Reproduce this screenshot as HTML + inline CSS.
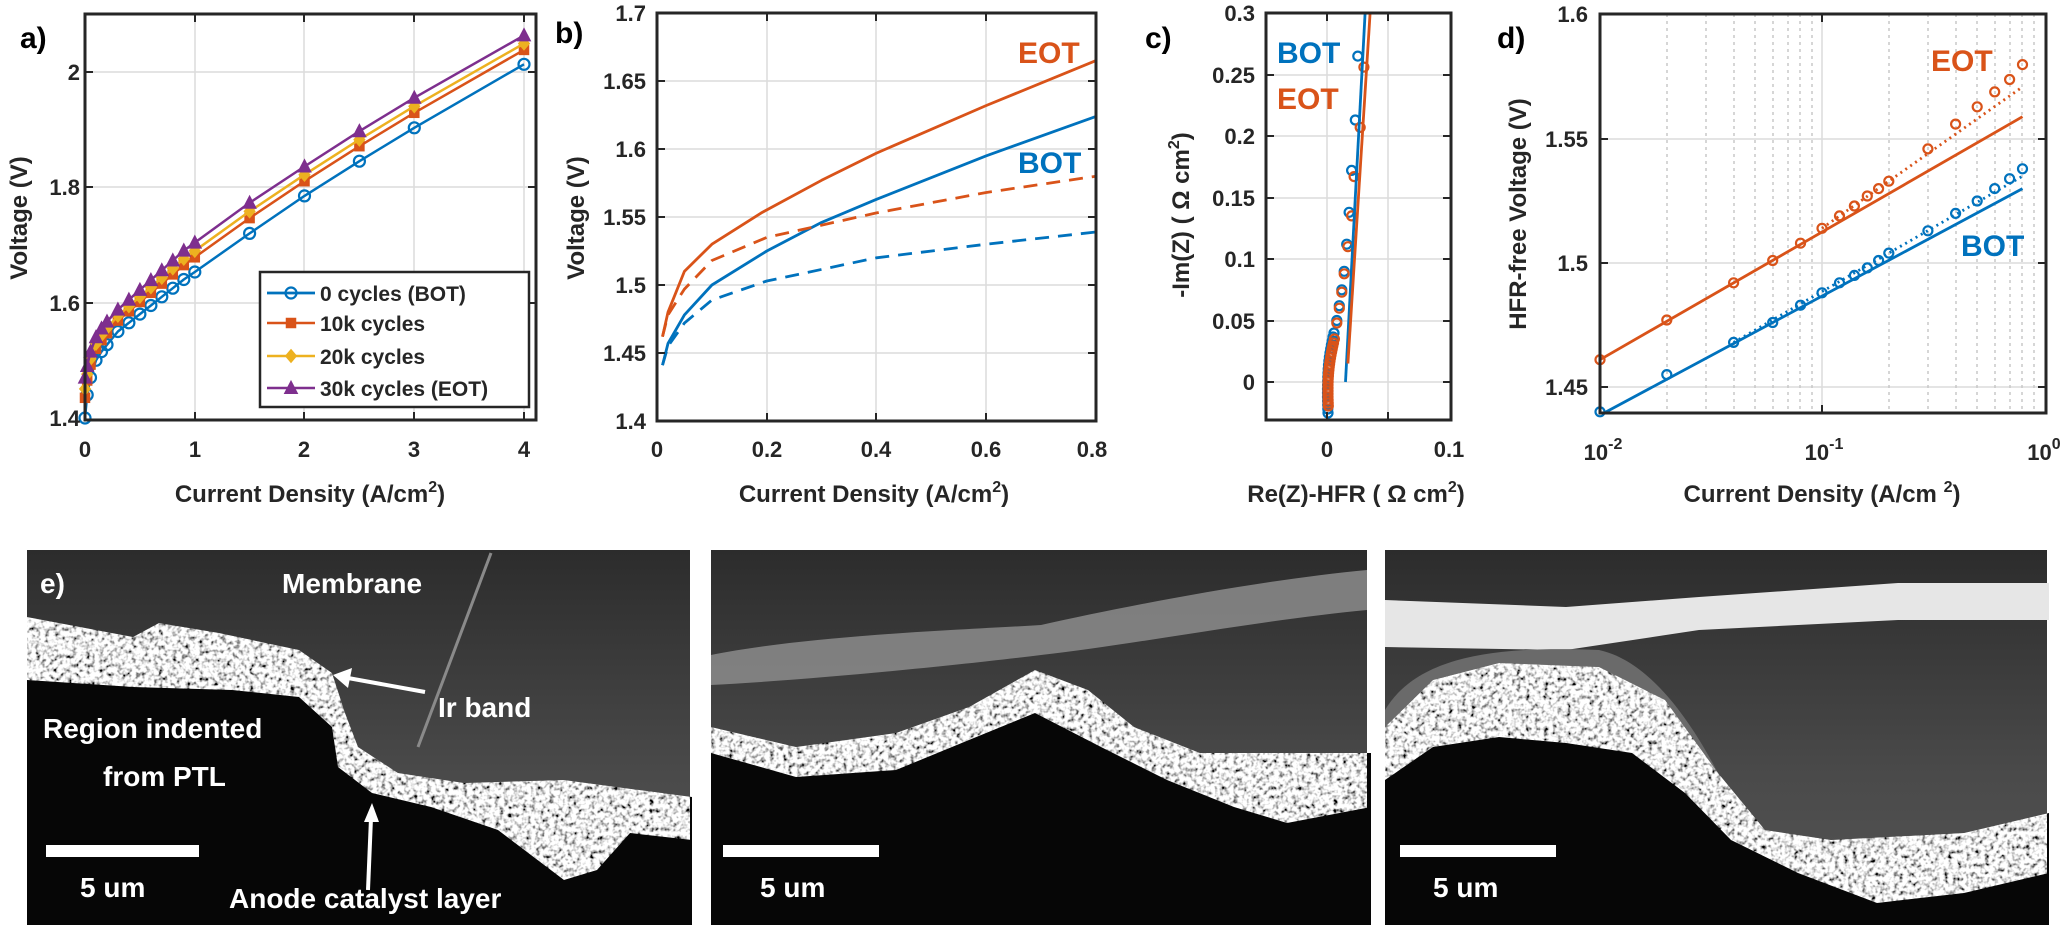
<!DOCTYPE html>
<html><head><meta charset="utf-8"><style>
html,body{margin:0;padding:0;background:#fff;}
svg{display:block;font-family:"Liberation Sans",Arial,sans-serif;}
.t{font-size:22px;font-weight:bold;fill:#262626;}
.l{font-size:24px;font-weight:bold;fill:#262626;}
.p{font-size:30px;font-weight:bold;fill:#000;}
.w{font-weight:bold;fill:#fff;}
</style></head><body>
<svg width="2070" height="929" viewBox="0 0 2070 929" xmlns="http://www.w3.org/2000/svg">
<defs>
<marker id="mB" markerUnits="userSpaceOnUse" viewBox="-8 -8 16 16" markerWidth="16" markerHeight="16" refX="0" refY="0" overflow="visible"><circle r="5.5" fill="none" stroke="#0072BD" stroke-width="2.2"/></marker>
<marker id="mR" markerUnits="userSpaceOnUse" viewBox="-8 -8 16 16" markerWidth="16" markerHeight="16" refX="0" refY="0" overflow="visible"><rect x="-4.5" y="-4.5" width="9" height="9" fill="#D95319" stroke="#D95319" stroke-width="1.5"/></marker>
<marker id="mY" markerUnits="userSpaceOnUse" viewBox="-8 -8 16 16" markerWidth="16" markerHeight="16" refX="0" refY="0" overflow="visible"><polygon points="0,-6.5 5.5,0 0,6.5 -5.5,0" fill="#EDB120" stroke="#EDB120"/></marker>
<marker id="mP" markerUnits="userSpaceOnUse" viewBox="-8 -8 16 16" markerWidth="16" markerHeight="16" refX="0" refY="0" overflow="visible"><polygon points="0,-7 6.5,5.5 -6.5,5.5" fill="#7E2F8E" stroke="#7E2F8E"/></marker>
<marker id="cB" markerUnits="userSpaceOnUse" viewBox="-8 -8 16 16" markerWidth="16" markerHeight="16" refX="0" refY="0" overflow="visible"><circle r="4.5" fill="none" stroke="#0072BD" stroke-width="2.2"/></marker>
<marker id="cR" markerUnits="userSpaceOnUse" viewBox="-8 -8 16 16" markerWidth="16" markerHeight="16" refX="0" refY="0" overflow="visible"><circle r="4.5" fill="none" stroke="#D95319" stroke-width="2.2"/></marker>
<filter id="speck" x="0" y="0" width="100%" height="100%">
<feTurbulence type="fractalNoise" baseFrequency="0.22" numOctaves="2" seed="4"/>
<feColorMatrix type="matrix" values="3 0 0 0 -0.65  3 0 0 0 -0.65  3 0 0 0 -0.65  0 0 0 0 1"/>
</filter>
<linearGradient id="mem" x1="0" y1="0" x2="0" y2="1"><stop offset="0" stop-color="#2c2c2c"/><stop offset="0.6" stop-color="#4a4a4a"/><stop offset="1" stop-color="#555"/></linearGradient>
<clipPath id="c1"><path d="M0,67 L106,87 L132,73 L192,83 L272,100 L305,123 L318,163 L331,197 L371,223 L437,233 L537,230 L665,247 L665,290 L603,283 L570,320 L537,330 L471,280 L404,257 L345,243 L311,217 L305,177 L272,147 L205,140 L106,137 L0,130Z"/></clipPath>
<clipPath id="c2"><path d="M0,177 L85,197 L185,183 L258,157 L324,120 L377,140 L423,177 L489,203 L589,203 L660,203 L660,257 L576,273 L523,257 L456,230 L390,197 L324,163 L258,190 L185,220 L85,227 L0,203Z"/></clipPath>
<clipPath id="c3"><path d="M0,177 L48,130 L114,113 L214,117 L280,150 L333,223 L380,280 L446,290 L579,283 L664,263 L664,323 L579,343 L492,353 L413,323 L346,290 L300,243 L247,203 L181,193 L114,187 L48,197 L0,230Z"/></clipPath>
</defs>

<!-- grids -->
<g stroke="#dcdcdc" stroke-width="1.5">
<line x1="195" y1="14" x2="195" y2="420"/><line x1="304" y1="14" x2="304" y2="420"/><line x1="414" y1="14" x2="414" y2="420"/><line x1="524" y1="14" x2="524" y2="420"/>
<line x1="85" y1="303" x2="536" y2="303"/><line x1="85" y1="187" x2="536" y2="187"/><line x1="85" y1="72" x2="536" y2="72"/>
<line x1="767" y1="13" x2="767" y2="421"/><line x1="876" y1="13" x2="876" y2="421"/><line x1="986" y1="13" x2="986" y2="421"/>
<line x1="657" y1="353" x2="1096" y2="353"/><line x1="657" y1="285" x2="1096" y2="285"/><line x1="657" y1="217" x2="1096" y2="217"/><line x1="657" y1="149" x2="1096" y2="149"/><line x1="657" y1="81" x2="1096" y2="81"/>
<line x1="1327" y1="13" x2="1327" y2="420"/><line x1="1388" y1="13" x2="1388" y2="420"/>
<line x1="1266" y1="382" x2="1451" y2="382"/><line x1="1266" y1="321" x2="1451" y2="321"/><line x1="1266" y1="259" x2="1451" y2="259"/><line x1="1266" y1="198" x2="1451" y2="198"/><line x1="1266" y1="136" x2="1451" y2="136"/><line x1="1266" y1="75" x2="1451" y2="75"/>
<line x1="1822" y1="14" x2="1822" y2="413"/>
<line x1="1600" y1="387" x2="2046" y2="387"/><line x1="1600" y1="263" x2="2046" y2="263"/><line x1="1600" y1="139" x2="2046" y2="139"/>
</g>
<g stroke="#c8c8c8" stroke-width="1.5" stroke-dasharray="3,4">
<line x1="1667" y1="14" x2="1667" y2="413"/><line x1="1706" y1="14" x2="1706" y2="413"/><line x1="1734" y1="14" x2="1734" y2="413"/><line x1="1755" y1="14" x2="1755" y2="413"/><line x1="1773" y1="14" x2="1773" y2="413"/><line x1="1788" y1="14" x2="1788" y2="413"/><line x1="1800" y1="14" x2="1800" y2="413"/><line x1="1812" y1="14" x2="1812" y2="413"/>
<line x1="1889" y1="14" x2="1889" y2="413"/><line x1="1928" y1="14" x2="1928" y2="413"/><line x1="1956" y1="14" x2="1956" y2="413"/><line x1="1977" y1="14" x2="1977" y2="413"/><line x1="1995" y1="14" x2="1995" y2="413"/><line x1="2010" y1="14" x2="2010" y2="413"/><line x1="2022" y1="14" x2="2022" y2="413"/><line x1="2034" y1="14" x2="2034" y2="413"/>
</g>

<!-- panel a series -->
<g fill="none" stroke-width="2.5" stroke-linejoin="round">
<polyline stroke="#0072BD" marker-start="url(#mB)" marker-mid="url(#mB)" marker-end="url(#mB)" points="85,418 87.2,394.9 90.5,377.6 96,360.3 101.5,351.6 107,344.7 117.9,331.5 128.9,322.8 139.9,314.1 150.9,305.5 161.8,296.8 172.8,288.2 183.8,279.5 194.8,272 249.6,233.4 304.5,195.9 359.4,161.2 414.3,127.8 524,64.3"/>
<polyline stroke="#D95319" marker-start="url(#mR)" marker-mid="url(#mR)" marker-end="url(#mR)" points="85,397.8 87.2,380.5 90.5,364.6 96,348.8 101.5,340.1 107,333.2 117.9,320.6 128.9,311.3 139.9,302 150.9,292.8 161.8,283.6 172.8,274.4 183.8,265.1 194.8,257.3 249.6,218.1 304.5,181.2 359.4,146.2 414.3,112.8 524,49.9"/>
<polyline stroke="#EDB120" marker-start="url(#mY)" marker-mid="url(#mY)" marker-end="url(#mY)" points="85,388.9 87.2,374.1 90.5,358.9 96,343.7 101.5,335 107,328.1 117.9,315.7 128.9,306.2 139.9,296.7 150.9,287.2 161.8,277.7 172.8,268.3 183.8,258.7 194.8,250.8 249.6,211.4 304.5,174.7 359.4,139.6 414.3,106.2 524,43.5"/>
<polyline stroke="#7E2F8E" marker-start="url(#mP)" marker-mid="url(#mP)" marker-end="url(#mP)" points="85,377.6 87.2,366 90.5,351.6 96,337.2 101.5,328.5 107,321.6 117.9,309.6 128.9,299.7 139.9,289.9 150.9,280.1 161.8,270.3 172.8,260.5 183.8,250.6 194.8,242.6 249.6,202.8 304.5,166.5 359.4,131.2 414.3,97.8 524,35.4"/>
</g>

<!-- panel b series -->
<g fill="none" stroke-width="2.8" stroke-linejoin="round">
<polyline stroke="#D95319" points="662.5,336.7 668,312.2 684.4,271.4 711.9,244.2 761.3,212.9 821.6,180.3 876.5,153.1 986.3,105.5 1096,60.6"/>
<polyline stroke="#0072BD" points="662.5,365.2 668,343.5 684.4,314.9 711.9,285 766.8,251 821.6,222.4 876.5,199.3 986.3,155.8 1096,116.4"/>
<polyline stroke="#D95319" stroke-dasharray="14,9" points="662.5,336.7 668,314.9 684.4,289.1 711.9,260.5 766.8,237.4 876.5,212.9 986.3,192.5 1096,176.2"/>
<polyline stroke="#0072BD" stroke-dasharray="14,9" points="662.5,365.2 668,346.2 684.4,323.1 711.9,300 766.8,281 876.5,257.8 986.3,244.2 1096,232"/>
</g>

<!-- panel c series -->
<g fill="none" stroke="none">
<polyline marker-start="url(#cB)" marker-mid="url(#cB)" marker-end="url(#cB)" points="1357.8,56.1 1355.3,120 1351.6,170.4 1349.1,212.3 1346.7,244.2 1344.2,271.3 1341.8,289.8 1339.3,305.7 1336.8,320.5 1334,333 1333,337 1332.2,341 1331.4,345 1330.7,349 1330,353 1329.4,357 1328.9,361 1328.5,365 1328.2,369 1328,373 1327.8,377 1327.7,381 1327.6,385 1327.5,389 1327.5,393 1327.5,397 1327.6,401 1327.7,405 1327.8,409 1328,413"/>
<polyline marker-start="url(#cR)" marker-mid="url(#cR)" marker-end="url(#cR)" points="1363.9,67.1 1360.2,127.4 1354.1,176.6 1351.6,215.9 1347.9,246.7 1344.2,273.8 1341.8,292.2 1339.3,308.2 1336.8,323 1334.4,339 1333.5,343 1332.8,346 1332.2,349 1331.6,352 1331,355 1330.5,358 1330,361 1329.6,364 1329.2,367 1328.9,370 1328.6,373 1328.4,376 1328.2,379 1328.1,382 1328,385 1328,388 1328,391 1328,394 1328,397 1328.1,400 1328.2,403 1328.3,406"/>
</g>
<line x1="1345.5" y1="382" x2="1365.1" y2="13" stroke="#0072BD" stroke-width="2.8"/>
<line x1="1347.9" y1="363.5" x2="1370.1" y2="13" stroke="#D95319" stroke-width="2.8"/>

<!-- panel d series -->
<g fill="none" stroke-width="2.8">
<line x1="1600" y1="359.7" x2="2022.5" y2="116.7" stroke="#D95319"/>
<line x1="1604" y1="413" x2="2022.5" y2="188.6" stroke="#0072BD"/>
<polyline stroke="#D95319" stroke-dasharray="2,4" points="1822,228.3 1888.8,181.2 2022.5,86.9"/>
<polyline stroke="#0072BD" stroke-dasharray="2,4" points="1733.6,342.4 1888.8,253.1 2022.5,176.2"/>
</g>
<g fill="none" stroke="none">
<polyline marker-start="url(#cR)" marker-mid="url(#cR)" marker-end="url(#cR)" points="1600,359.7 1666.8,320 1733.6,282.8 1772.7,260.5 1800.5,243.2 1822,228.3 1839.5,215.9 1854.4,206 1867.3,196 1878.6,188.6 1888.8,181.2 1927.9,148.9 1955.6,124.1 1977.2,106.8 1994.7,91.9 2009.6,79.5 2022.5,64.6"/>
<polyline marker-start="url(#cB)" marker-mid="url(#cB)" marker-end="url(#cB)" points="1600,411.8 1666.8,374.6 1733.6,342.4 1772.7,322.5 1800.5,305.2 1822,292.8 1839.5,282.8 1854.4,275.4 1867.3,267.9 1878.6,260.5 1888.8,253.1 1927.9,230.8 1955.6,213.4 1977.2,201 1994.7,188.6 2009.6,178.7 2022.5,168.8"/>
</g>

<!-- axes boxes -->
<g fill="none" stroke="#262626" stroke-width="3">
<rect x="85" y="14" width="451" height="406"/>
<rect x="657" y="13" width="439" height="408"/>
<rect x="1266" y="13" width="185" height="407"/>
<rect x="1600" y="14" width="446" height="399"/>
</g>
<g stroke="#262626" stroke-width="2">
<path d="M195,420v-8M304,420v-8M414,420v-8M524,420v-8M195,14v8M304,14v8M414,14v8M524,14v8M85,303h8M85,187h8M85,72h8M536,303h-8M536,187h-8M536,72h-8"/>
<path d="M767,421v-8M876,421v-8M986,421v-8M767,13v8M876,13v8M986,13v8M657,353h8M657,285h8M657,217h8M657,149h8M657,81h8M1096,353h-8M1096,285h-8M1096,217h-8M1096,149h-8M1096,81h-8"/>
<path d="M1327,420v-8M1388,420v-8M1327,13v8M1388,13v8M1266,382h8M1266,321h8M1266,259h8M1266,198h8M1266,136h8M1266,75h8M1451,382h-8M1451,321h-8M1451,259h-8M1451,198h-8M1451,136h-8M1451,75h-8"/>
<path d="M1600,387h8M1600,263h8M1600,139h8M2046,387h-8M2046,263h-8M2046,139h-8M1822,413v-8M1822,14v8"/>
</g>

<!-- legend a -->
<rect x="260" y="272" width="269" height="135" fill="#fff" stroke="#262626" stroke-width="2.5"/>
<g stroke-width="2.5">
<line x1="267" y1="293" x2="315" y2="293" stroke="#0072BD" marker-mid="url(#mB)"/>
<polyline points="267,293 291,293 315,293" fill="none" stroke="#0072BD" marker-mid="url(#mB)"/>
<polyline points="267,323 291,323 315,323" fill="none" stroke="#D95319" marker-mid="url(#mR)"/>
<polyline points="267,356 291,356 315,356" fill="none" stroke="#EDB120" marker-mid="url(#mY)"/>
<polyline points="267,388 291,388 315,388" fill="none" stroke="#7E2F8E" marker-mid="url(#mP)"/>
</g>
<g class="t" style="font-size:21px">
<text x="320" y="301">0 cycles (BOT)</text>
<text x="320" y="331">10k cycles</text>
<text x="320" y="364">20k cycles</text>
<text x="320" y="396">30k cycles (EOT)</text>
</g>

<!-- tick labels -->
<g class="t" text-anchor="end">
<text x="80" y="426">1.4</text><text x="80" y="311">1.6</text><text x="80" y="195">1.8</text><text x="80" y="80">2</text>
<text x="646" y="429">1.4</text><text x="646" y="361">1.45</text><text x="646" y="293">1.5</text><text x="646" y="225">1.55</text><text x="646" y="157">1.6</text><text x="646" y="89">1.65</text><text x="646" y="21">1.7</text>
<text x="1255" y="390">0</text><text x="1255" y="329">0.05</text><text x="1255" y="267">0.1</text><text x="1255" y="206">0.15</text><text x="1255" y="144">0.2</text><text x="1255" y="83">0.25</text><text x="1255" y="21">0.3</text>
<text x="1588" y="395">1.45</text><text x="1588" y="271">1.5</text><text x="1588" y="147">1.55</text><text x="1588" y="22">1.6</text>
</g>
<g class="t" text-anchor="middle">
<text x="85" y="457">0</text><text x="195" y="457">1</text><text x="304" y="457">2</text><text x="414" y="457">3</text><text x="524" y="457">4</text>
<text x="657" y="457">0</text><text x="767" y="457">0.2</text><text x="876" y="457">0.4</text><text x="986" y="457">0.6</text><text x="1092" y="457">0.8</text>
<text x="1327" y="457">0</text><text x="1449" y="457">0.1</text>
<text x="1603" y="460">10<tspan dy="-11" font-size="16">-2</tspan></text>
<text x="1824" y="460">10<tspan dy="-11" font-size="16">-1</tspan></text>
<text x="2044" y="460">10<tspan dy="-11" font-size="16">0</tspan></text>
</g>

<!-- axis labels -->
<g class="l" text-anchor="middle">
<text x="310" y="502">Current Density (A/cm<tspan dy="-10" font-size="16">2</tspan><tspan dy="10">)</tspan></text>
<text x="874" y="502">Current Density (A/cm<tspan dy="-10" font-size="16">2</tspan><tspan dy="10">)</tspan></text>
<text x="1356" y="502">Re(Z)-HFR ( Ω cm<tspan dy="-10" font-size="16">2</tspan><tspan dy="10">)</tspan></text>
<text x="1822" y="502">Current Density (A/cm <tspan dy="-10" font-size="16">2</tspan><tspan dy="10">)</tspan></text>
<text transform="translate(27,218) rotate(-90)">Voltage (V)</text>
<text transform="translate(584,218) rotate(-90)">Voltage (V)</text>
<text transform="translate(1189,215) rotate(-90)">-Im(Z) ( Ω cm<tspan dy="-10" font-size="16">2</tspan><tspan dy="10">)</tspan></text>
<text transform="translate(1526,214) rotate(-90)">HFR-free Voltage (V)</text>
</g>

<g class="p">
<text x="20" y="48">a)</text>
<text x="555" y="43">b)</text>
<text x="1145" y="48">c)</text>
<text x="1497" y="48">d)</text>
</g>
<g class="p">
<text x="1018" y="63" fill="#D95319">EOT</text>
<text x="1018" y="173" fill="#0072BD">BOT</text>
<text x="1277" y="63" fill="#0072BD">BOT</text>
<text x="1277" y="109" fill="#D95319">EOT</text>
<text x="1931" y="71" fill="#D95319">EOT</text>
<text x="1961" y="256" fill="#0072BD">BOT</text>
</g>

<!-- Images -->
<g transform="translate(27,550)">
<rect width="663" height="375" fill="url(#mem)"/>
<line x1="464" y1="3" x2="391" y2="197" stroke="#8a8a8a" stroke-width="3"/>
<path d="M0,67 L106,87 L132,73 L192,83 L272,100 L305,123 L318,163 L331,197 L371,223 L437,233 L537,230 L665,247 L665,375 L0,375Z" fill="#060606"/>
<rect width="663" height="375" fill="#aaa" filter="url(#speck)" clip-path="url(#c1)"/>
</g>
<g transform="translate(711,550)">
<rect width="656" height="375" fill="url(#mem)"/>
<path d="M0,105 C100,85 250,80 330,75 C420,55 550,30 656,20 L656,60 C550,70 420,95 330,105 C250,115 100,130 0,135Z" fill="#8c8c8c" opacity="0.85"/>
<path d="M0,177 L85,197 L185,183 L258,157 L324,120 L377,140 L423,177 L489,203 L589,203 L660,203 L660,375 L0,375Z" fill="#060606"/>
<rect width="656" height="375" fill="#aaa" filter="url(#speck)" clip-path="url(#c2)"/>
</g>
<g transform="translate(1385,550)">
<rect width="662" height="375" fill="url(#mem)"/>
<path d="M0,50 L181,57 L314,47 L513,33 L664,33 L664,70 L513,70 L314,80 L181,100 L0,97Z" fill="#e6e6e6"/>
<path d="M0,160 C30,110 100,95 214,100 C260,110 300,160 333,223 L333,240 L0,240Z" fill="#6a6a6a"/>
<path d="M0,177 L48,130 L114,113 L214,117 L280,150 L333,223 L380,280 L446,290 L579,283 L664,263 L664,375 L0,375Z" fill="#060606"/>
<rect width="662" height="375" fill="#aaa" filter="url(#speck)" clip-path="url(#c3)"/>
</g>
<g fill="#fff">
<rect x="46" y="845" width="153" height="12"/>
<rect x="723" y="845" width="156" height="12"/>
<rect x="1400" y="845" width="156" height="12"/>
</g>
<g class="w" style="font-size:28px">
<text x="80" y="897">5 um</text>
<text x="760" y="897">5 um</text>
<text x="1433" y="897">5 um</text>
<text x="40" y="593">e)</text>
<text x="282" y="593">Membrane</text>
<text x="438" y="717">Ir band</text>
<text x="43" y="738">Region indented</text>
<text x="103" y="786">from PTL</text>
<text x="229" y="908">Anode catalyst layer</text>
</g>
<g stroke="#fff" stroke-width="4" fill="#fff">
<line x1="425" y1="692" x2="348" y2="678"/>
<polygon points="333,675 352,668 348,688" stroke="none"/>
<line x1="368" y1="890" x2="371" y2="818"/>
<polygon points="372,803 364,822 379,822" stroke="none"/>
</g>
</svg>
</body></html>
